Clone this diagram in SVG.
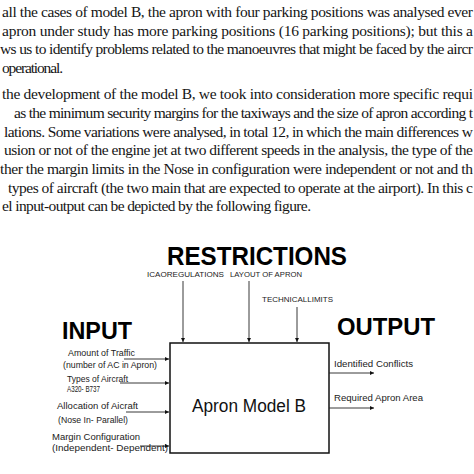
<svg xmlns="http://www.w3.org/2000/svg" width="474" height="474" viewBox="0 0 474 474">
<style>
.p{font-family:"Liberation Serif","Times New Roman",serif;font-size:15.5px;fill:#151515}
.h{font-family:"Liberation Sans",Arial,sans-serif;font-weight:bold;fill:#000}
.s{font-family:"Liberation Sans",Arial,sans-serif;font-size:9px;fill:#222}
.c{font-family:"Liberation Sans",Arial,sans-serif;font-size:7px;fill:#222}
.ln{stroke:#222;stroke-width:0.9;fill:none}
</style>
<defs>
<marker id="ah" viewBox="0 0 6 6" refX="6" refY="3" markerWidth="4" markerHeight="4" orient="auto" markerUnits="userSpaceOnUse">
<path d="M0,0 L6,3 L0,6 z" fill="#111"/>
</marker>
</defs>
<rect width="474" height="474" fill="#fff"/>
<g id="paragraphs">
<text class="p" x="2" y="17" textLength="471" lengthAdjust="spacing">all the cases of model B, the apron with four parking positions was analysed ever</text>
<text class="p" x="2" y="36" textLength="471" lengthAdjust="spacing">apron under study has more parking positions (16 parking positions); but this a</text>
<text class="p" x="0" y="54" textLength="473" lengthAdjust="spacing">ws us to identify problems related to the manoeuvres that might be faced by the aircr</text>
<text class="p" x="2" y="73" textLength="61" lengthAdjust="spacing">operational.</text>
<text class="p" x="2" y="99" textLength="471" lengthAdjust="spacing">the development of the model B, we took into consideration more specific requi</text>
<text class="p" x="14" y="118" textLength="459" lengthAdjust="spacing">as the minimum security margins for the taxiways and the size of apron according t</text>
<text class="p" x="4" y="137" textLength="469" lengthAdjust="spacing">lations. Some variations were analysed, in total 12, in which the main differences w</text>
<text class="p" x="4" y="155" textLength="469" lengthAdjust="spacing">usion or not of the engine jet at two different speeds in the analysis, the type of the</text>
<text class="p" x="0" y="174" textLength="473" lengthAdjust="spacing">ther the margin limits in the Nose in configuration were independent or not and th</text>
<text class="p" x="8" y="193" textLength="465" lengthAdjust="spacing">types of aircraft (the two main that are expected to operate at the airport). In this c</text>
<text class="p" x="2" y="211" textLength="309" lengthAdjust="spacing">el input-output can be depicted by the following figure.</text>
</g>
<g id="headings">
<text class="h" x="167" y="265" font-size="26" textLength="180" lengthAdjust="spacingAndGlyphs">RESTRICTIONS</text>
<text class="h" x="62" y="339" font-size="24" textLength="70" lengthAdjust="spacingAndGlyphs">INPUT</text>
<text class="h" x="337" y="335" font-size="24" textLength="98" lengthAdjust="spacingAndGlyphs">OUTPUT</text>
</g>
<g id="restriction-labels">
<text class="c" x="147" y="277" textLength="77" lengthAdjust="spacingAndGlyphs">ICAOREGULATIONS</text>
<text class="c" x="230" y="277" textLength="72" lengthAdjust="spacingAndGlyphs">LAYOUT OF APRON</text>
<text class="c" x="262" y="302" textLength="71" lengthAdjust="spacingAndGlyphs">TECHNICALLIMITS</text>
</g>
<g id="apron-model-b">
<rect x="170" y="343" width="159" height="110" fill="#fff" stroke="#111" stroke-width="1.5"/>
<text x="192" y="412" font-family="'Liberation Sans',Arial,sans-serif" font-size="17.5" fill="#111" textLength="114" lengthAdjust="spacingAndGlyphs">Apron Model B</text>
</g>
<g id="input-labels">
<text class="s" x="68" y="356" textLength="67" lengthAdjust="spacingAndGlyphs">Amount of Traffic</text>
<text class="s" x="63" y="368" textLength="94" lengthAdjust="spacingAndGlyphs">(number of AC in Apron)</text>
<text class="s" x="67" y="382" textLength="61" lengthAdjust="spacingAndGlyphs">Types of Aircraft</text>
<text class="s" x="67" y="392" font-size="8" textLength="33" lengthAdjust="spacingAndGlyphs">A320- B737</text>
<text class="s" x="57" y="409" textLength="81" lengthAdjust="spacingAndGlyphs">Allocation of Aicraft</text>
<text class="s" x="58" y="423" textLength="70" lengthAdjust="spacingAndGlyphs">(Nose In- Parallel)</text>
<text class="s" x="52" y="440" textLength="88" lengthAdjust="spacingAndGlyphs">Margin Configuration</text>
<text class="s" x="52" y="451" textLength="116" lengthAdjust="spacingAndGlyphs">(Independent- Dependent)</text>
</g>
<g id="output-labels">
<text class="s" x="334" y="367" textLength="79" lengthAdjust="spacingAndGlyphs">Identified Conflicts</text>
<text class="s" x="334" y="401" textLength="89" lengthAdjust="spacingAndGlyphs">Required Apron Area</text>
</g>
<g id="connectors">
<line class="ln" x1="183" y1="281" x2="183" y2="342" marker-end="url(#ah)"/>
<line class="ln" x1="249" y1="281" x2="249" y2="342" marker-end="url(#ah)"/>
<line class="ln" x1="297" y1="307" x2="297" y2="342" marker-end="url(#ah)"/>
<line class="ln" x1="124" y1="359" x2="169" y2="359" marker-end="url(#ah)"/>
<line class="ln" x1="120" y1="383" x2="169" y2="383" marker-end="url(#ah)"/>
<line class="ln" x1="126" y1="412" x2="169" y2="412" marker-end="url(#ah)"/>
<line class="ln" x1="140" y1="446" x2="169" y2="446" marker-end="url(#ah)"/>
<line class="ln" x1="329" y1="373" x2="374" y2="373" marker-end="url(#ah)"/>
<line class="ln" x1="329" y1="408" x2="374" y2="408" marker-end="url(#ah)"/>
</g>
</svg>
